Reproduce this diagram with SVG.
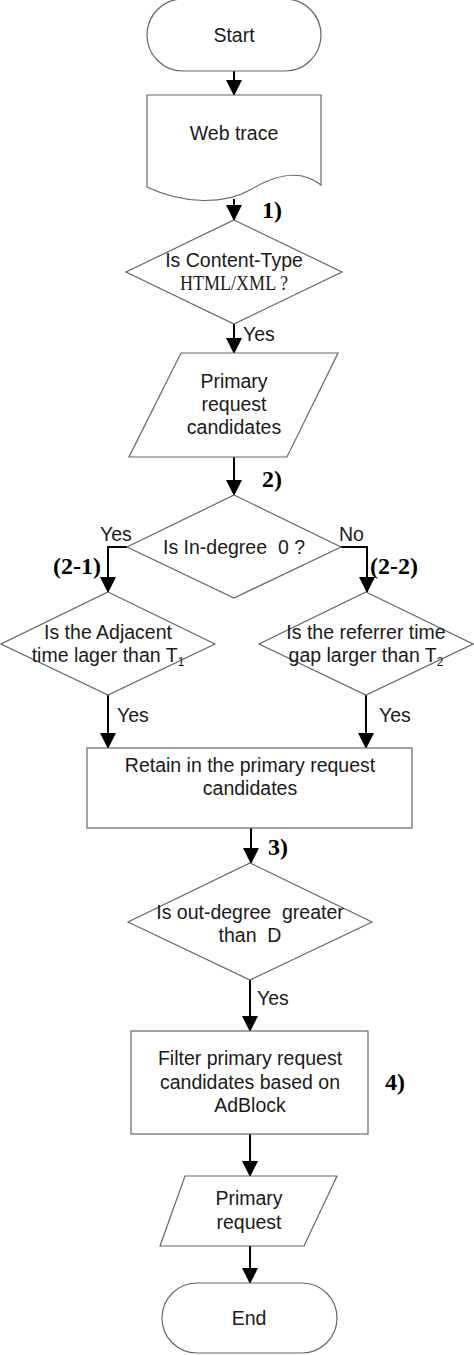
<svg xmlns="http://www.w3.org/2000/svg" width="474" height="1355" viewBox="0 0 474 1355">
<defs>
<marker id="ah" markerUnits="userSpaceOnUse" markerWidth="16" markerHeight="16" viewBox="0 0 16 16" refX="15" refY="8" orient="auto">
<path d="M0,0 L16,8 L0,16 Z" fill="#000"/>
</marker>
</defs>
<style>
.n{fill:#fff;stroke:#666;stroke-width:1.2}
.t{font-family:"Liberation Sans",Arial,sans-serif;font-size:19.5px;fill:#1a1a1a;text-anchor:middle}
.s{font-family:"Liberation Serif","Times New Roman",serif;font-size:20px;fill:#1a1a1a;text-anchor:middle}
.b{font-family:"Liberation Serif","Times New Roman",serif;font-size:24px;font-weight:bold;fill:#000}
.c{fill:none;stroke:#000;stroke-width:2}
.cl{font-family:"Liberation Sans",Arial,sans-serif;font-size:19.5px;fill:#1a1a1a}
</style>
<rect width="474" height="1355" fill="#fff"/>
<g id="connectors">
<path class="c" d="M234,71 V95" marker-end="url(#ah)"/>
<path class="c" d="M234,199 V220" marker-end="url(#ah)"/>
<path class="c" d="M234,324 V353" marker-end="url(#ah)"/>
<path class="c" d="M234,457 V495" marker-end="url(#ah)"/>
<path class="c" d="M127,547 H108 V592" marker-end="url(#ah)"/>
<path class="c" d="M341,547 H367 V592" marker-end="url(#ah)"/>
<path class="c" d="M108,695 V748" marker-end="url(#ah)"/>
<path class="c" d="M366,695 V748" marker-end="url(#ah)"/>
<path class="c" d="M251,828 V863" marker-end="url(#ah)"/>
<path class="c" d="M250,980 V1031" marker-end="url(#ah)"/>
<path class="c" d="M250,1134 V1176" marker-end="url(#ah)"/>
<path class="c" d="M250,1246 V1283" marker-end="url(#ah)"/>
<text class="cl" x="243" y="341">Yes</text>
<text class="cl" x="100" y="541">Yes</text>
<text class="cl" x="339" y="541">No</text>
<text class="cl" x="117" y="722">Yes</text>
<text class="cl" x="379" y="722">Yes</text>
<text class="cl" x="257" y="1005">Yes</text>
<text class="b" x="262" y="218">1)</text>
<text class="b" x="262" y="487">2)</text>
<text class="b" x="53" y="574">(2-1)</text>
<text class="b" x="370" y="574">(2-2)</text>
<text class="b" x="268" y="855">3)</text>
<text class="b" x="385" y="1090">4)</text>
</g>
<g id="start">
<rect class="n" x="147" y="-1" width="174" height="72" rx="36" ry="36"/>
<text class="t" x="234" y="42">Start</text>
</g>
<g id="webtrace">
<path class="n" d="M147,95 H321 V185 C300,168 275,175 250,190 C225,204 185,205 147,187 Z"/>
<text class="t" x="234" y="140">Web trace</text>
</g>
<g id="contenttype">
<path class="n" d="M234,220 L342,272 L234,324 L126,272 Z"/>
<text class="t" x="234" y="267">Is Content-Type</text>
<text class="s" x="234" y="290" textLength="108" lengthAdjust="spacingAndGlyphs">HTML/XML ?</text>
</g>
<g id="candidates">
<path class="n" d="M181,353 H338 L287,457 H129 Z"/>
<text class="t" x="234" y="388">Primary</text>
<text class="t" x="234" y="411">request</text>
<text class="t" x="234" y="434">candidates</text>
</g>
<g id="indegree">
<path class="n" d="M234,495 L341,547 L234,598 L127,547 Z"/>
<text class="t" x="234" y="554" xml:space="preserve">Is In-degree  0 ?</text>
</g>
<g id="adjacent">
<path class="n" d="M108,592 L215,644 L108,695 L1,644 Z"/>
<text class="t" x="108" y="639">Is the Adjacent</text>
<text class="t" x="108" y="662">time lager than T<tspan font-size="12" dy="4">1</tspan></text>
</g>
<g id="referrer">
<path class="n" d="M366,592 L473,644 L366,695 L259,644 Z"/>
<text class="t" x="366" y="639">Is the referrer time</text>
<text class="t" x="366" y="662">gap larger than T<tspan font-size="12" dy="4">2</tspan></text>
</g>
<g id="retain">
<rect class="n" x="87" y="748" width="325" height="80"/>
<text class="t" x="250" y="772">Retain in the primary request</text>
<text class="t" x="250" y="795">candidates</text>
</g>
<g id="outdegree">
<path class="n" d="M250,863 L372,922 L250,980 L128,922 Z"/>
<text class="t" x="250" y="919" xml:space="preserve">Is out-degree  greater</text>
<text class="t" x="250" y="942" xml:space="preserve">than  D</text>
</g>
<g id="filter">
<rect class="n" x="131" y="1031" width="237" height="103"/>
<text class="t" x="250" y="1065">Filter primary request</text>
<text class="t" x="250" y="1089">candidates based on</text>
<text class="t" x="250" y="1112">AdBlock</text>
</g>
<g id="primaryrequest">
<path class="n" d="M185,1176 H337 L304,1246 H160 Z"/>
<text class="t" x="249" y="1205">Primary</text>
<text class="t" x="249" y="1229">request</text>
</g>
<g id="end">
<rect class="n" x="162" y="1283" width="175" height="70" rx="35" ry="35"/>
<text class="t" x="249" y="1325">End</text>
</g>
</svg>
